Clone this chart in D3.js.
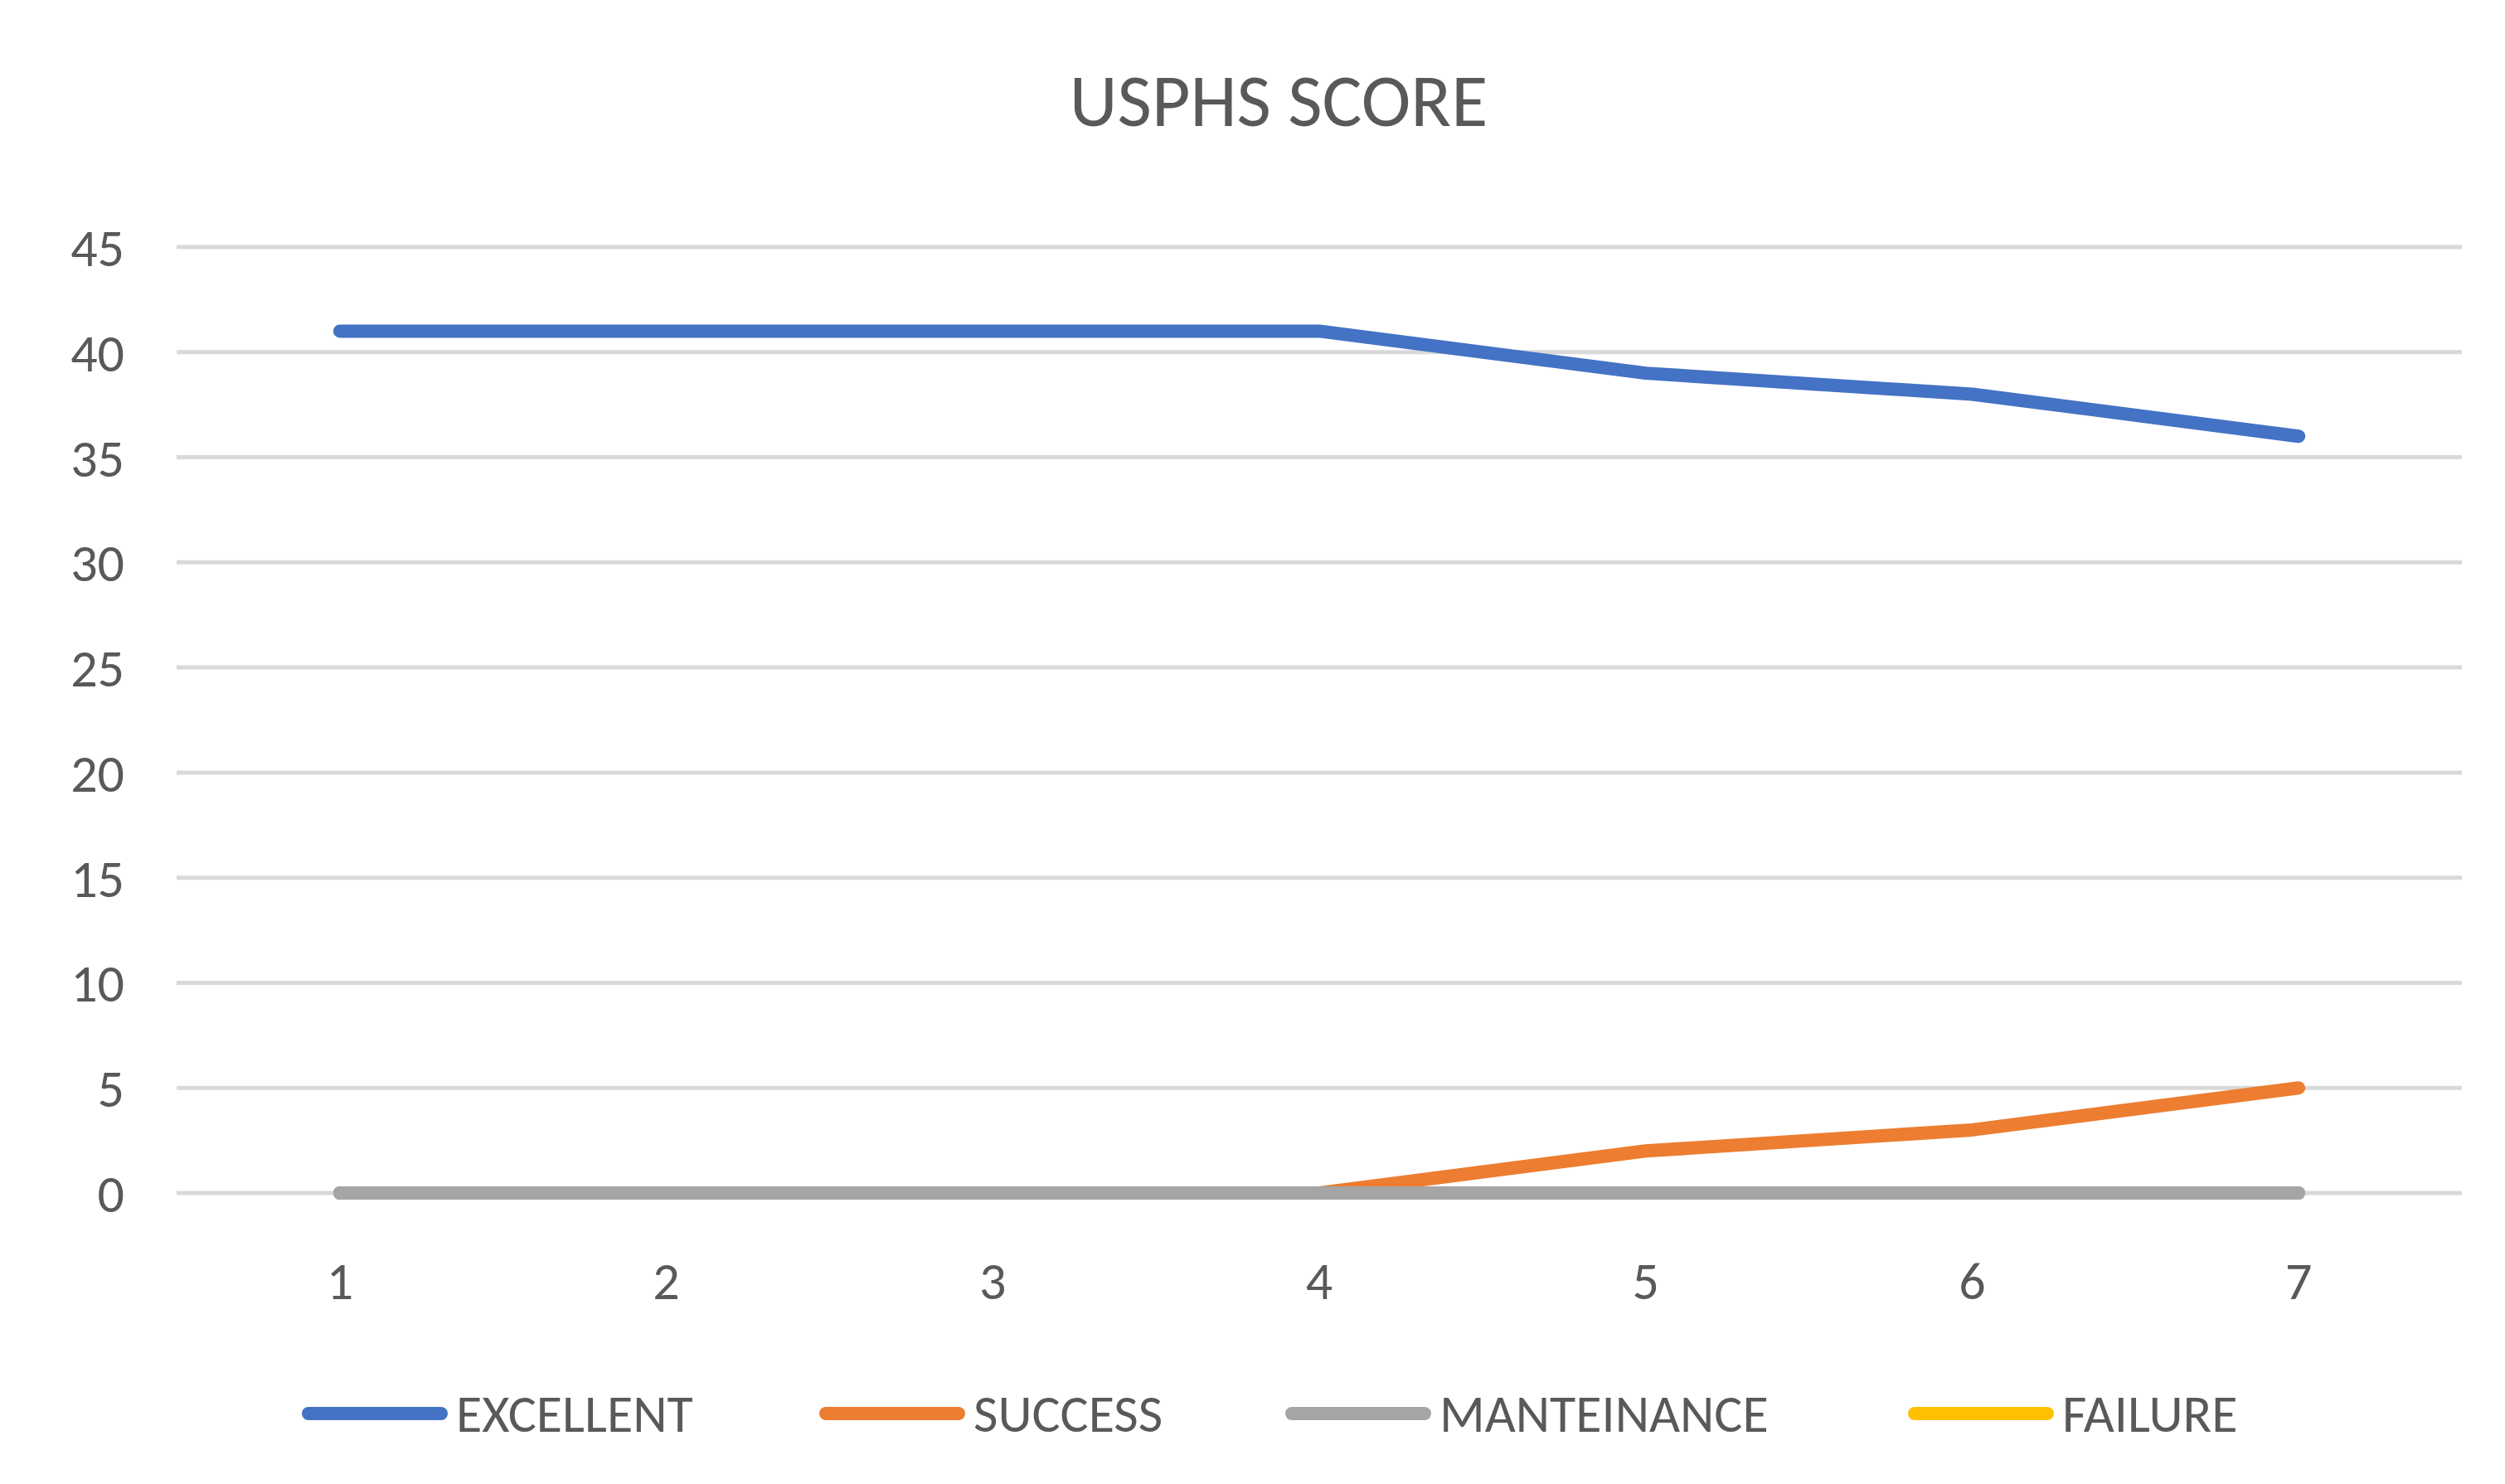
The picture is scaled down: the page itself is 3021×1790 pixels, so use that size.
<!DOCTYPE html>
<html><head><meta charset="utf-8">
<script src="https://cdn.jsdelivr.net/npm/d3@7"></script>
<style>body{margin:0;background:#fff}</style>
</head><body>
<svg id="c" width="3021" height="1790"></svg>
<script>
var categories = ["1","2","3","4","5","6","7"];
var yTicks = [0,5,10,15,20,25,30,35,40,45];
var excellent = [41,41,41,41,39,38,36];
var success = [0,0,0,0,2,3,5];
var manteinance = [0,0,0,0,0,0,0];
var failure = [0,0,0,0,0,0,0];
var seriesNames = ["EXCELLENT","SUCCESS","MANTEINANCE","FAILURE"];
var colors = ["#4472C4","#ED7D31","#A5A5A5","#FFC000"];
var allSeries = [excellent, success, manteinance, failure];

var svg = d3.select("#c");
var font = "Calibri, 'Liberation Sans', 'Open Sans', sans-serif";
var x = d3.scaleBand().domain(categories).range([213, 2969]);
var y = d3.scaleLinear().domain([0,45]).range([1439, 298]);

svg.append("text").attr("x", 1542).attr("y", 152).attr("text-anchor","middle")
  .attr("font-family", font).attr("font-size", 90).attr("fill","#595959").text("USPHS SCORE");

svg.selectAll(".grid").data(yTicks).enter().append("line")
  .attr("x1", 213).attr("x2", 2969).attr("y1", d => y(d)).attr("y2", d => y(d))
  .attr("stroke","#D9D9D9").attr("stroke-width", 5);

svg.selectAll(".yl").data(yTicks).enter().append("text")
  .attr("x", 150).attr("y", d => y(d) + 23).attr("text-anchor","end")
  .attr("font-family", font).attr("font-size", 64).attr("fill","#595959").text(d => d);

svg.selectAll(".xl").data(categories).enter().append("text")
  .attr("x", d => x(d) + x.bandwidth()/2).attr("y", 1567).attr("text-anchor","middle")
  .attr("font-family", font).attr("font-size", 64).attr("fill","#595959").text(d => d);

var line = d3.line().x((d,i) => x(categories[i]) + x.bandwidth()/2).y(d => y(d));
[3,1,2,0].forEach(function (k) {
  svg.append("path").attr("d", line(allSeries[k])).attr("fill","none")
    .attr("stroke", colors[k]).attr("stroke-width", 16).attr("stroke-linecap","round")
    .attr("stroke-linejoin","round");
});

var legX = [372, 996, 1558, 2309];
seriesNames.forEach(function (n, k) {
  svg.append("line").attr("x1", legX[k]).attr("x2", legX[k] + 160).attr("y1", 1705).attr("y2", 1705)
    .attr("stroke", colors[k]).attr("stroke-width", 16).attr("stroke-linecap","round");
  svg.append("text").attr("x", legX[k] + 178).attr("y", 1727)
    .attr("font-family", font).attr("font-size", 64).attr("fill","#595959").text(n);
});
</script>
</body></html>
